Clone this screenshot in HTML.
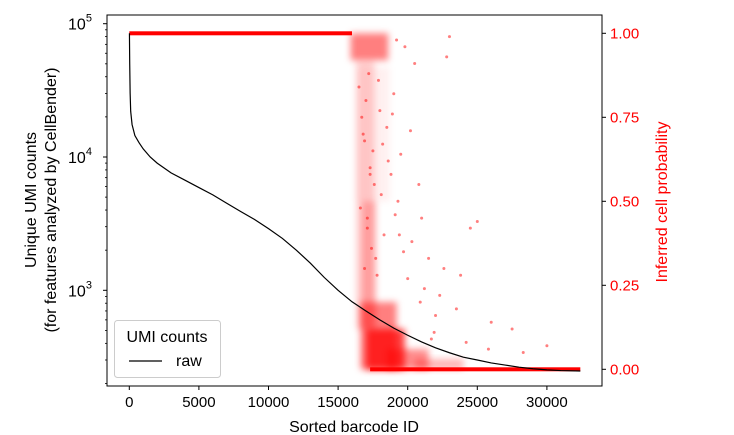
<!DOCTYPE html>
<html><head><meta charset="utf-8"><style>
body{margin:0;background:#fff;}
svg{display:block;font-family:"Liberation Sans","DejaVu Sans",sans-serif;}
</style></head><body>
<svg id="chart" width="734" height="435" viewBox="0 0 734 435" xmlns="http://www.w3.org/2000/svg">
<defs><clipPath id="clip"><rect x="107" y="15" width="495" height="371"/></clipPath>
<filter id="blur" x="-50%" y="-50%" width="200%" height="200%"><feGaussianBlur stdDeviation="3.5"/></filter></defs>
<g id="plot" clip-path="url(#clip)"></g>
<g id="axes"></g>
</svg>
<script>
// UMI curve data
const barcodes = [0, 10, 30, 60, 100, 200, 400, 700, 1000, 1500, 2000, 3000, 4000, 5000, 6000, 7000, 8000, 9000, 10000, 11000, 12000, 13000, 14000, 15000, 16000, 17000, 18000, 19000, 20000, 21000, 22000, 23000, 24000, 25000, 26000, 27000, 28000, 29000, 30000, 31000, 32400];
const umi = [84700, 84000, 50000, 30000, 22000, 17500, 14500, 12800, 11500, 10000, 9000, 7600, 6700, 5900, 5200, 4500, 3900, 3400, 2900, 2450, 2000, 1600, 1250, 1000, 820, 700, 600, 520, 460, 410, 370, 340, 315, 300, 285, 275, 265, 258, 253, 250, 248];
// cell probability: solid bands [x0, x1, p]
const bandX0 = [0, 17300];
const bandX1 = [16000, 32400];
const bandP = [1.0, 0.0];
// diffuse clusters [x0, x1, p0, p1, alpha]
const regionX0 = [15900, 16300, 16700, 16600, 17000, 18500, 20500, 16400];
const regionX1 = [18600, 17600, 17700, 19200, 19800, 21500, 24000, 18700];
const regionP0 = [0.92, 0.12, 0.12, 0.0, 0.0, 0.0, 0.0, 0.5];
const regionP1 = [1.0, 0.92, 0.5, 0.2, 0.12, 0.06, 0.03, 0.9];
const regionA = [0.5, 0.18, 0.25, 0.5, 0.75, 0.45, 0.3, 0.06];
// sparse points
const ptX = [19200,19800,20500,22800,23000,19000,18900,20200,19500,18800,20800,21000,19300,24500,25000,20300,21500,22600,19700,23800,21200,27500,28300,20900,22000,18600,19100,21900,20000,24200,26000,18500,19400,22300,23500,25800,21700,30000,17900,18200,17000,16800,17300,17600,16600,17100,17400,16900,17800,17200,16700,17500,18100,18300,17700,16500,18000,17300,16900,17100];
const ptP = [0.98,0.96,0.91,0.93,0.99,0.82,0.76,0.71,0.64,0.58,0.55,0.45,0.5,0.42,0.44,0.38,0.33,0.3,0.35,0.28,0.24,0.12,0.05,0.2,0.16,0.62,0.46,0.11,0.27,0.08,0.14,0.72,0.4,0.22,0.18,0.06,0.09,0.07,0.86,0.67,0.8,0.7,0.6,0.55,0.48,0.42,0.36,0.3,0.28,0.88,0.75,0.65,0.52,0.4,0.33,0.84,0.77,0.58,0.68,0.45];

const X0 = 129.3, XS = 69.6/5000;
const sx = v => X0 + v*XS;
const sy = u => 23.7 + (5 - Math.log10(u))*133.3;
const sp = p => 369.3 - p*336;
const NS = "http://www.w3.org/2000/svg";
function mk(tag, attrs, parent){const e=document.createElementNS(NS,tag);for(const k in attrs)e.setAttribute(k,attrs[k]);parent.appendChild(e);return e;}
const plot = document.getElementById('plot');
const axes = document.getElementById('axes');

for(let i=0;i<regionX0.length;i++){
  const x=sx(regionX0[i]), w=sx(regionX1[i])-x;
  const y=sp(regionP1[i]), h=Math.max(sp(regionP0[i])-y,3);
  const r=mk('rect',{x:x,y:y,width:w,height:h,fill:'#ff0000','fill-opacity':regionA[i],filter:'url(#blur)'},plot);
  
  
}
for(let i=0;i<bandX0.length;i++){
  const x=sx(bandX0[i]), w=sx(bandX1[i])-x;
  const r=mk('rect',{x:x,y:sp(bandP[i])-2,width:w,height:4,fill:'#ff0000'},plot);
  
  
}
for(let i=0;i<ptX.length;i++){
  const c=mk('circle',{cx:sx(ptX[i]),cy:sp(ptP[i]),r:1.5,fill:'#ff0000','fill-opacity':0.5},plot);
  
  
}
let d='';
barcodes.forEach((b,i)=>{d+=(i?'L':'M')+sx(b).toFixed(2)+','+sy(umi[i]).toFixed(2);});
const line=mk('path',{d:d,fill:'none',stroke:'#000','stroke-width':1.2},plot);



const fr=mk('rect',{x:107,y:15,width:495,height:371,fill:'none',stroke:'#000','stroke-width':1},axes);



const xTicks=[0,5000,10000,15000,20000,25000,30000];
xTicks.forEach(t=>{
  mk('line',{x1:sx(t),x2:sx(t),y1:386,y2:390,stroke:'#000'},axes);
  const tx=mk('text',{x:sx(t),y:407,'text-anchor':'middle','font-size':15},axes);
  tx.textContent=t;
  
  
});
const yMajor=[3,4,5];
yMajor.forEach(e=>{
  const y=sy(Math.pow(10,e));
  mk('line',{x1:103,x2:107,y1:y,y2:y,stroke:'#000'},axes);
  const tx=mk('text',{x:80,y:y+6,'text-anchor':'middle','font-size':16},axes);
  tx.innerHTML='10<tspan dy="-8" font-size="11">'+e+'</tspan>';
  
  
});
for(let e=2;e<5;e++)for(let m=2;m<10;m++){
  const y=sy(m*Math.pow(10,e));
  if(y>386||y<15)continue;
  mk('line',{x1:105,x2:107,y1:y,y2:y,stroke:'#000','stroke-width':0.8},axes);
}
const pTicks=['0.00','0.25','0.50','0.75','1.00'];
pTicks.forEach(t=>{
  const y=sp(parseFloat(t));
  mk('line',{x1:602,x2:606,y1:y,y2:y,stroke:'#000'},axes);
  const tx=mk('text',{x:610,y:y+5,'font-size':15,fill:'#ff0000'},axes);
  tx.textContent=t;
  
  
});
axes.insertAdjacentHTML('beforeend',
 '<text x="354" y="432" text-anchor="middle" font-size="16">Sorted barcode ID</text>'+
 '<text transform="translate(36,200) rotate(-90)" text-anchor="middle" font-size="16">Unique UMI counts</text>'+
 '<text transform="translate(56,200) rotate(-90)" text-anchor="middle" font-size="16">(for features analyzed by CellBender)</text>'+
 '<text transform="translate(667,202) rotate(-90)" text-anchor="middle" font-size="16" fill="#ff0000">Inferred cell probability</text>'+
 '<g><rect x="114.5" y="320.5" width="106" height="57" rx="3" fill="#fff" fill-opacity="0.85" stroke="#ccc"/>'+
 '<text x="167" y="342" text-anchor="middle" font-size="16">UMI counts</text>'+
 '<line x1="129" x2="162" y1="361" y2="361" stroke="#000" stroke-width="1.2"/>'+
 '<text x="176" y="366" font-size="16">raw</text></g>');
</script>
</body></html>
